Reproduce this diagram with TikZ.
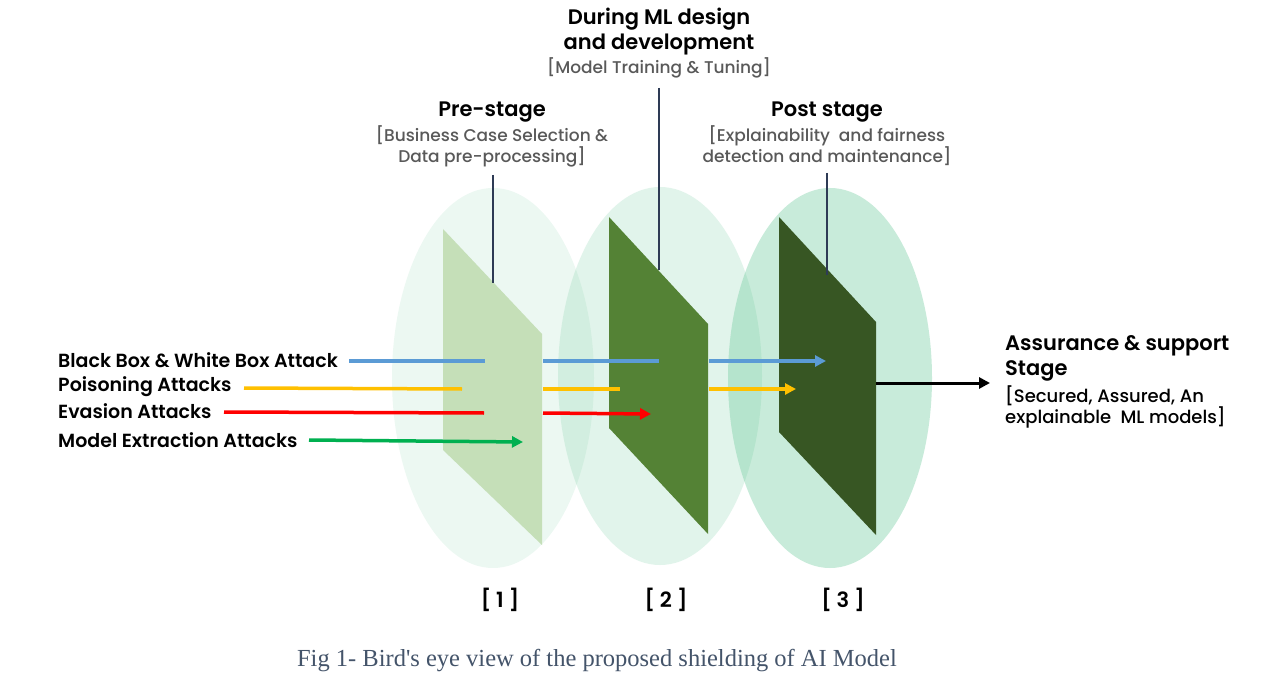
\documentclass[tikz,border=0pt]{standalone}
\usepackage{fontspec}
\setmainfont{Poppins}
\newfontfamily\popsemi{Poppins SemiBold}
\newfontfamily\popmed{Poppins Medium}
\newfontfamily\capfont{Liberation Serif}
\usetikzlibrary{arrows.meta}
\definecolor{navy}{HTML}{2E3B55}
\definecolor{ablue}{HTML}{5B9BD5}
\definecolor{ayellow}{HTML}{FFC000}
\definecolor{ared}{HTML}{FF0000}
\definecolor{agreen}{HTML}{00B050}
\definecolor{ellc}{RGB}{100,200,150}
\definecolor{p1c}{HTML}{C5DFB8}
\definecolor{p2c}{HTML}{548235}
\definecolor{p3c}{HTML}{375623}
\definecolor{subgray}{HTML}{595959}
\definecolor{capc}{HTML}{44546A}
\tikzset{
  ell/.style={draw=none, fill=ellc},
  stem/.style={navy, line width=1.6pt},
  att/.style={line width=3.5pt},
  tip/.style={-{Triangle[length=11pt,width=11pt]}},
  lbl/.style={font=\popsemi\fontsize{19}{20}\selectfont, anchor=west, inner sep=0pt},
  head/.style={font=\popsemi\fontsize{21}{25}\selectfont, align=center, inner sep=0pt},
  sub/.style={font=\popmed\fontsize{17}{21}\selectfont, text=subgray, align=center, inner sep=0pt},
  num/.style={font=\popsemi\fontsize{21}{24}\selectfont, inner sep=0pt},
}
\begin{document}
\begin{tikzpicture}[x=1pt,y=-1pt]
\useasboundingbox (0,0) rectangle (1280,679);
\fill[white] (0,0) rectangle (1280,679);
% ellipses
\fill[ell, fill opacity=0.12] (493,378) ellipse [x radius=101, y radius=190];
\fill[ell, fill opacity=0.19] (660,376) ellipse [x radius=102, y radius=189];
\fill[ell, fill opacity=0.35] (830,378) ellipse [x radius=102, y radius=190];
% stems
\node[inner sep=0] (s1b) at (493,283) {};
\node[inner sep=0] (s1t) at (493,175) {};
\node[inner sep=0] (s2b) at (659,270) {};
\node[inner sep=0] (s2t) at (659,88) {};
\node[inner sep=0] (s3b) at (827,275) {};
\node[inner sep=0] (s3t) at (827,173) {};
% panels
\fill[p1c] (443,229) -- (542,334) -- (542,545) -- (443,450) -- cycle;
\fill[p2c] (609,217) -- (708,324) -- (708,534) -- (609,428) -- cycle;
\fill[p3c] (779,217) -- (876,322) -- (876,535) -- (779,432) -- cycle;
\draw[stem] (s1t.center) -- (s1b.center);
\draw[stem] (s2t.center) -- (s2b.center);
\draw[stem] (s3t.center) -- (s3b.center);
% labels
\node[lbl] (l1) at (58,360) {Black Box \& White Box Attack};
\node[lbl] (l2) at (58,387) {Poisoning Attacks};
\node[lbl] (l3) at (58,411) {Evasion Attacks};
\node[lbl] (l4) at (58,440) {Model Extraction Attacks};
% coordinates for arrows
\coordinate (b1) at (485,361); \coordinate (b2a) at (543,361); \coordinate (b2b) at (659,361); \coordinate (b3a) at (709,361); \coordinate (b3b) at (826,361);
\coordinate (y1) at (462,389); \coordinate (y2a) at (543,389); \coordinate (y2b) at (620,389); \coordinate (y3a) at (709,389); \coordinate (y3b) at (796,389);
\coordinate (r1) at (484,413); \coordinate (r2a) at (543,413); \coordinate (r2b) at (651,414);
\coordinate (g1) at (523,442);
\draw[att, ablue] (349,361) -- (b1);
\draw[att, ablue] (b2a) -- (b2b);
\draw[att, ablue, tip] (b3a) -- (b3b);
\draw[att, ayellow] (244,388) -- (y1);
\draw[att, ayellow] (y2a) -- (y2b);
\draw[att, ayellow, tip] (y3a) -- (y3b);
\draw[att, ared] (224,412) -- (r1);
\draw[att, ared, tip] (r2a) -- (r2b);
\draw[att, agreen, tip] (309,440) -- (g1);
% output
\node[inner sep=0] (out) at (876,383) {};
\node[font=\popsemi\fontsize{21}{25}\selectfont, anchor=north west, align=left, inner sep=0pt] (as) at (1005,335) {Assurance \& support\\Stage};
\node[font=\popmed\fontsize{18}{21.5}\selectfont, anchor=north west, align=left, inner sep=0pt] (as2) at (1005,385) {[Secured, Assured, An\\explainable\ \ ML models]};
\draw[line width=3pt, black, -{Triangle[length=11pt,width=11pt]}] (out.center) -- (990,383);
% headers
\node[head] (h1) at (492,112) {Pre-stage};
\node[sub, anchor=north] (h1s) at (492,125) {[Business Case Selection \&\\Data pre-processing]};
\node[head] (h2) at (659,32) {During ML design\\and development};
\node[sub, anchor=north] (h2s) at (659,57) {[Model Training \& Tuning]};
\node[head] (h3) at (827,112) {Post stage};
\node[sub, anchor=north] (h3s) at (827,125) {[Explainability\ \ and fairness\\detection and maintenance]};
% numbers
\node[num] (n1) at (500,600) {[ 1 ]};
\node[num] (n2) at (666,600) {[ 2 ]};
\node[num] (n3) at (843,600) {[ 3 ]};
% caption
\node[font=\capfont\fontsize{24.5}{28}\selectfont, text=capc, inner sep=0pt] (cap) at (597,661) {Fig 1- Bird's eye view of the proposed shielding of AI Model};
\end{tikzpicture}
\end{document}
